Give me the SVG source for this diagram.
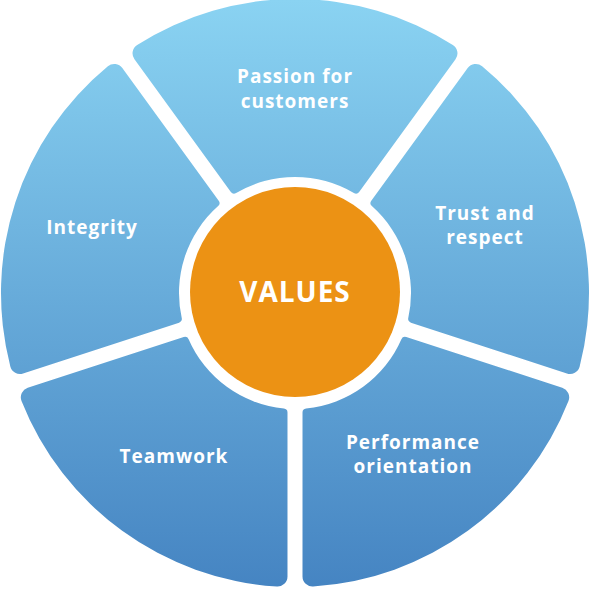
<svg xmlns="http://www.w3.org/2000/svg" xmlns:xlink="http://www.w3.org/1999/xlink" width="591" height="590" viewBox="0 0 591 590">
  <style>
    .lbl { font-family: "Open Sans", "Liberation Sans", sans-serif; font-weight: bold; font-size: 19px; fill: #ffffff; text-anchor: middle; letter-spacing: 1px; }
    .center { font-family: "Open Sans", "Liberation Sans", sans-serif; font-weight: bold; font-size: 28px; fill: #ffffff; text-anchor: middle; letter-spacing: 1px; }
  </style>
  <defs>
    <linearGradient id="blue" gradientUnits="userSpaceOnUse" x1="0" y1="0" x2="0" y2="590">
      <stop offset="0" stop-color="#8AD3F2"/>
      <stop offset="1" stop-color="#4584C2"/>
    </linearGradient>
    <path id="seg" d="M137.17,44.95 A294,294 0 0 1 452.83,44.95 A10,10 0 0 1 455.54,59.27 L359.14,191.95 A4,4 0 0 1 353.88,193.05 A116,116 0 0 0 236.12,193.05 A4,4 0 0 1 230.86,191.95 L134.46,59.27 A10,10 0 0 1 137.17,44.95 Z"/>
    <clipPath id="c0"><use xlink:href="#seg"/></clipPath>
    <clipPath id="c1"><use xlink:href="#seg" transform="rotate(72 295 293)"/></clipPath>
    <clipPath id="c2"><use xlink:href="#seg" transform="rotate(144 295 293)"/></clipPath>
    <clipPath id="c3"><use xlink:href="#seg" transform="rotate(216 295 293)"/></clipPath>
    <clipPath id="c4"><use xlink:href="#seg" transform="rotate(288 295 293)"/></clipPath>
  </defs>
  <rect width="591" height="590" fill="#ffffff"/>
  <g id="connectors"></g>
  <g id="passion">
    <rect width="591" height="590" fill="url(#blue)" clip-path="url(#c0)"/>
    <text class="lbl" x="295" y="83">Passion for</text>
    <text class="lbl" x="295" y="108">customers</text>
  </g>
  <g id="trust">
    <rect width="591" height="590" fill="url(#blue)" clip-path="url(#c1)"/>
    <text class="lbl" x="485" y="220">Trust and</text>
    <text class="lbl" x="485" y="244">respect</text>
  </g>
  <g id="performance">
    <rect width="591" height="590" fill="url(#blue)" clip-path="url(#c2)"/>
    <text class="lbl" x="413" y="449">Performance</text>
    <text class="lbl" x="413" y="473">orientation</text>
  </g>
  <g id="teamwork">
    <rect width="591" height="590" fill="url(#blue)" clip-path="url(#c3)"/>
    <text class="lbl" x="174" y="463">Teamwork</text>
  </g>
  <g id="integrity">
    <rect width="591" height="590" fill="url(#blue)" clip-path="url(#c4)"/>
    <text class="lbl" x="92" y="234">Integrity</text>
  </g>
  <g id="values">
    <circle cx="295" cy="292" r="105" fill="#EC9214"/>
    <text class="center" x="295" y="302">VALUES</text>
  </g>
</svg>
